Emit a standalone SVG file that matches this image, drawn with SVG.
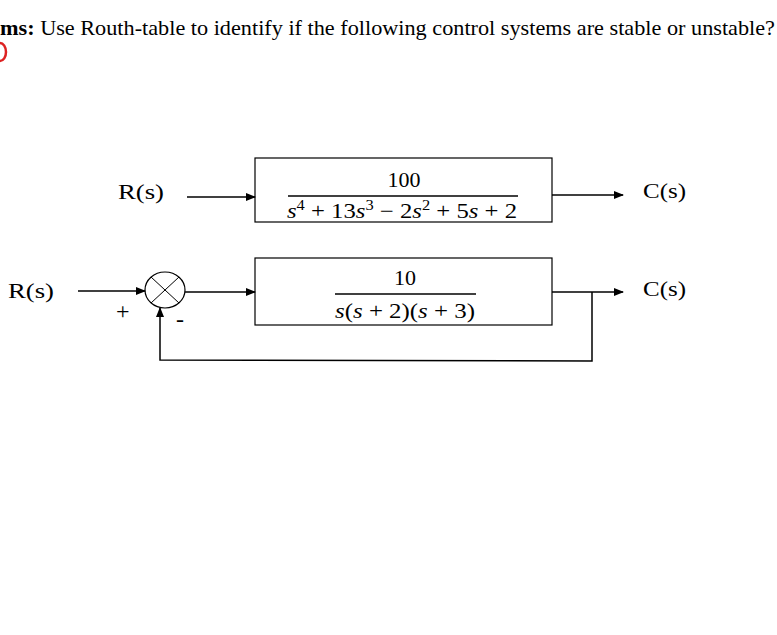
<svg xmlns="http://www.w3.org/2000/svg" width="777" height="635" viewBox="0 0 777 635">
<defs><marker id="a" markerWidth="10" markerHeight="8" refX="9" refY="4" orient="auto" markerUnits="userSpaceOnUse"><path d="M0,0L10,4L0,8z" fill="#000"/></marker>
<style>text{font-family:"Liberation Serif","DejaVu Serif",serif;fill:#000}.l{stroke:#000;stroke-width:1.5;fill:none}.b{fill:#fff;stroke:#000;stroke-width:1.2}.m{font-style:italic}</style></defs>
<rect width="777" height="635" fill="#fff"/>
<text x="0" y="35" font-size="21" textLength="775" lengthAdjust="spacingAndGlyphs"><tspan font-weight="bold">ms:</tspan> Use Routh-table to identify if the following control systems are stable or unstable?</text>
<path d="M0,43 A6,9 0 0 1 0,61" stroke="#d22" stroke-width="2.5" fill="none"/>
<g id="n1"><rect class="b" x="255" y="158" width="297" height="64"/><text x="404" y="187" font-size="22" text-anchor="middle">100</text><line x1="288" y1="196" x2="518" y2="196" stroke="#000" stroke-width="1.5"/><text x="402" y="218" font-size="21" text-anchor="middle" textLength="230" lengthAdjust="spacingAndGlyphs"><tspan class="m">s</tspan><tspan font-size="14" dy="-8">4</tspan><tspan dy="8"> + 13</tspan><tspan class="m">s</tspan><tspan font-size="14" dy="-8">3</tspan><tspan dy="8"> − 2</tspan><tspan class="m">s</tspan><tspan font-size="14" dy="-8">2</tspan><tspan dy="8"> + 5</tspan><tspan class="m">s</tspan> + 2</text></g>
<g id="n2"><rect class="b" x="255" y="258" width="297" height="67"/><text x="405" y="285" font-size="22" text-anchor="middle">10</text><line x1="335" y1="294" x2="476" y2="294" stroke="#000" stroke-width="1.5"/><text x="405" y="318" font-size="21" text-anchor="middle" textLength="140" lengthAdjust="spacingAndGlyphs"><tspan class="m">s</tspan>(<tspan class="m">s</tspan> + 2)(<tspan class="m">s</tspan> + 3)</text></g>
<g id="sum"><ellipse class="b" cx="165" cy="290" rx="20" ry="18"/><line x1="151" y1="277" x2="179" y2="303" stroke="#000"/><line x1="179" y1="277" x2="151" y2="303" stroke="#000"/></g>
<g id="labels" font-size="21"><text x="118" y="199" textLength="46" lengthAdjust="spacingAndGlyphs">R(s)</text><text x="643" y="198" textLength="43" lengthAdjust="spacingAndGlyphs">C(s)</text><text x="8" y="298" textLength="46" lengthAdjust="spacingAndGlyphs">R(s)</text><text x="643" y="296" textLength="43" lengthAdjust="spacingAndGlyphs">C(s)</text><text x="116" y="319" font-size="24">+</text><text x="176" y="327" font-size="24">-</text></g>
<g id="connectors"><line class="l" x1="187" y1="197" x2="255" y2="197" marker-end="url(#a)"/><line class="l" x1="552" y1="195" x2="623" y2="195" marker-end="url(#a)"/><line class="l" x1="78" y1="291" x2="145" y2="291" marker-end="url(#a)"/><line class="l" x1="185" y1="292" x2="255" y2="292" marker-end="url(#a)"/><line class="l" x1="552" y1="292" x2="623" y2="292" marker-end="url(#a)"/><polyline class="l" points="592,292 592,361 160,360 160,308" marker-end="url(#a)"/></g>
</svg>
